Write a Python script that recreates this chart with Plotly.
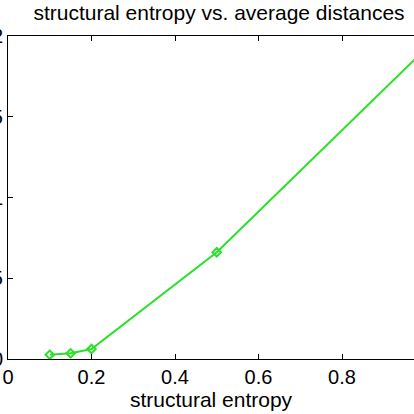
import plotly.graph_objects as go

# data
entropy = [0.1, 0.15, 0.2, 0.5, 1.0]
avg_distance = [0.026, 0.035, 0.062, 0.661, 1.92]

x_ticks = [0, 0.2, 0.4, 0.6, 0.8, 1.0]
x_tick_labels = ["0", "0.2", "0.4", "0.6", "0.8", "1"]
y_ticks = [0, 0.5, 1, 1.5, 2]
y_tick_labels = ["0", "0.5", "1", "1.5", "2"]

GREEN = "rgb(40,225,40)"
FONT = "Liberation Sans, Arial, Helvetica, sans-serif"

fig = go.Figure()
fig.add_trace(go.Scatter(
    x=entropy, y=avg_distance, mode="lines+markers",
    line=dict(color=GREEN, width=2),
    marker=dict(symbol="diamond-open", size=6.5, color=GREEN, line=dict(width=2, color=GREEN)),
    showlegend=False,
))

fig.update_layout(
    width=414, height=414,
    margin=dict(l=8, r=0, t=36, b=55, autoexpand=False),
    paper_bgcolor="white", plot_bgcolor="white",
    font=dict(family=FONT, size=20, color="black"),
    title=dict(text="structural entropy vs. average distances", x=219/414, xanchor="center",
               xref="container", y=1 - 13/414, yanchor="middle", yref="container",
               font=dict(family=FONT, size=21, color="black")),
)
fig.update_xaxes(
    range=[0, 406/417.5], tickvals=x_ticks, ticktext=x_tick_labels,
    showline=True, linecolor="black", linewidth=1, mirror="ticks",
    ticks="inside", ticklen=5, tickcolor="black", showgrid=False, zeroline=False,
    automargin=False,
    title=dict(text="structural entropy", font=dict(family=FONT, size=21), standoff=4),
    tickfont=dict(size=20),
)
fig.update_yaxes(
    range=[0, 2], tickvals=y_ticks, ticktext=y_tick_labels,
    showline=True, linecolor="black", linewidth=1, mirror=False,
    ticks="inside", ticklen=5, tickcolor="black", showgrid=False, zeroline=False,
    automargin=False,
    tickfont=dict(size=20),
)

fig.write_html("out.html")
